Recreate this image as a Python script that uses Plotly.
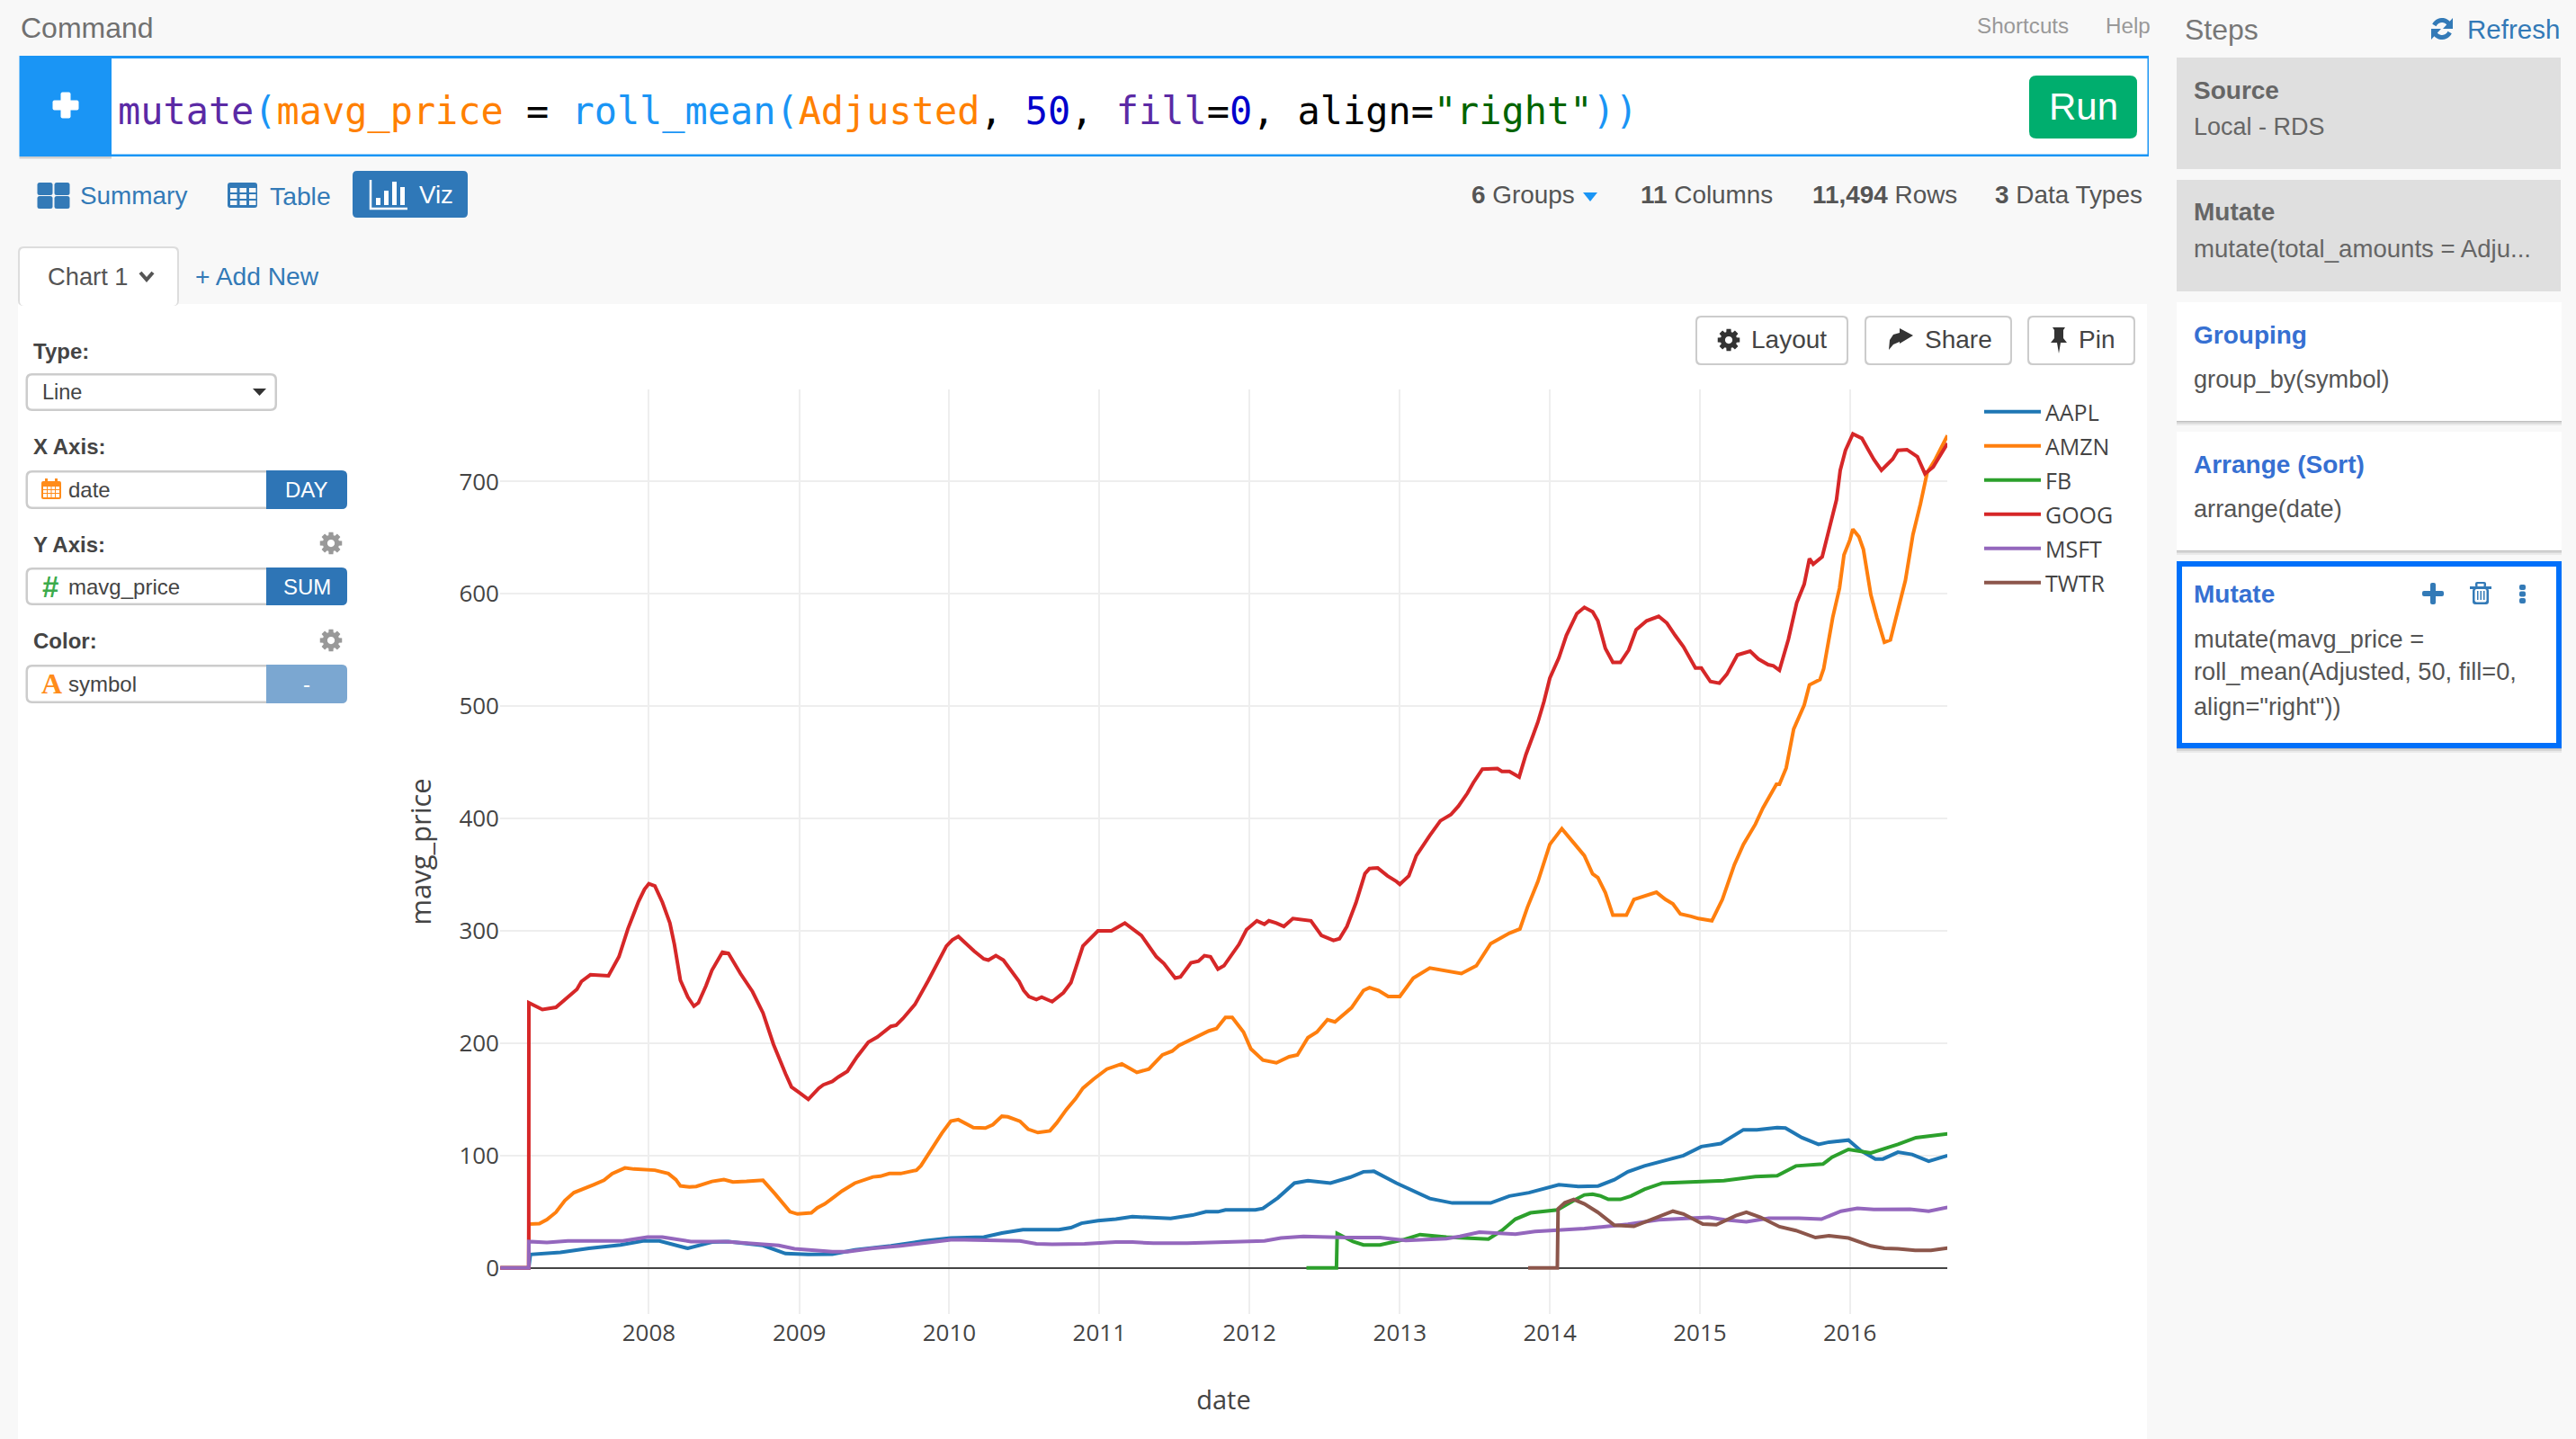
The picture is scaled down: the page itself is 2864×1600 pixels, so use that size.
import math

import pandas as pd
import plotly.graph_objects as pgo

W, H = 2864, 1600
UI_FONT = "Liberation Sans"
CHART_FONT = "Open Sans"
CODE_FONT = "DejaVu Sans Mono"
BLUE = "#337ab7"
TITLE_BLUE = "#3670d2"

symbols = ["AAPL", "AMZN", "FB", "GOOG", "MSFT", "TWTR"]
colors = ["#1f77b4", "#ff7f0e", "#2ca02c", "#d62728", "#9467bd", "#8c564b"]

# times are decimal years
aapl_t = [2007.01, 2007.199, 2007.21, 2007.41, 2007.60, 2007.81, 2007.96, 2008.07, 2008.26, 2008.42, 2008.53, 2008.67, 2008.76, 2008.91, 2009.06, 2009.22, 2009.37, 2009.61, 2009.83, 2010.01, 2010.23, 2010.35, 2010.49, 2010.73, 2010.81, 2010.88, 2010.99, 2011.11, 2011.22, 2011.475, 2011.62, 2011.71, 2011.79, 2011.84, 2012.04, 2012.09, 2012.19, 2012.30, 2012.39, 2012.54, 2012.67, 2012.76, 2012.83, 2012.98, 2013.20, 2013.35, 2013.605, 2013.73, 2013.86, 2014.06, 2014.19, 2014.32, 2014.43, 2014.52, 2014.63, 2014.89, 2015.01, 2015.14, 2015.29, 2015.38, 2015.515, 2015.57, 2015.68, 2015.79, 2015.86, 2015.99, 2016.07, 2016.17, 2016.22, 2016.32, 2016.415, 2016.525, 2016.65]
aapl_v = [0, 0, 12, 13.8, 17.4, 20.5, 24, 24, 17.4, 23, 23.5, 21.4, 20, 12.8, 12, 12.2, 16, 19.6, 24, 26.6, 27.5, 31, 34, 34, 35.8, 39.8, 42, 43.4, 45.6, 44, 47, 50, 50, 51.7, 51.7, 53, 62.4, 75.5, 77.7, 75.5, 80.7, 85.6, 86, 75.5, 61.8, 57.8, 57.8, 64, 67, 74, 72.5, 72.8, 78.6, 85.6, 90.8, 100, 108, 110.7, 123, 123, 125, 124.5, 116, 110, 112, 113.8, 104.6, 97, 97, 103, 101, 95, 100]

amzn_t = [2007.01, 2007.199, 2007.20, 2007.27, 2007.32, 2007.38, 2007.44, 2007.50, 2007.63, 2007.70, 2007.755, 2007.84, 2007.90, 2008.04, 2008.13, 2008.18, 2008.21, 2008.27, 2008.315, 2008.42, 2008.50, 2008.56, 2008.65, 2008.76, 2008.84, 2008.90, 2008.94, 2008.99, 2009.08, 2009.12, 2009.17, 2009.22, 2009.285, 2009.37, 2009.49, 2009.54, 2009.60, 2009.675, 2009.78, 2009.81, 2009.88, 2009.95, 2010.01, 2010.06, 2010.16, 2010.24, 2010.29, 2010.35, 2010.39, 2010.47, 2010.525, 2010.59, 2010.67, 2010.715, 2010.78, 2010.84, 2010.89, 2010.96, 2011.05, 2011.11, 2011.15, 2011.25, 2011.33, 2011.42, 2011.485, 2011.53, 2011.62, 2011.73, 2011.78, 2011.84, 2011.885, 2011.96, 2012.01, 2012.09, 2012.18, 2012.265, 2012.32, 2012.39, 2012.45, 2012.52, 2012.57, 2012.68, 2012.76, 2012.80, 2012.86, 2012.925, 2013.0, 2013.09, 2013.20, 2013.31, 2013.41, 2013.51, 2013.605, 2013.73, 2013.80, 2013.85, 2013.92, 2014.0, 2014.08, 2014.18, 2014.23, 2014.285, 2014.32, 2014.37, 2014.42, 2014.51, 2014.56, 2014.71, 2014.77, 2014.82, 2014.87, 2014.94, 2014.99, 2015.08, 2015.15, 2015.23, 2015.29, 2015.37, 2015.42, 2015.51, 2015.53, 2015.575, 2015.625, 2015.695, 2015.73, 2015.80, 2015.825, 2015.885, 2015.93, 2015.96, 2016.0, 2016.02, 2016.06, 2016.09, 2016.14, 2016.18, 2016.23, 2016.27, 2016.31, 2016.37, 2016.42, 2016.47, 2016.515, 2016.57, 2016.65]
amzn_v = [0, 0, 39, 39.4, 43, 49.5, 60, 67, 74, 78, 84, 89, 88, 87, 84, 78.6, 73, 72, 72.5, 77, 78.6, 76.5, 77, 78, 66, 56, 50, 48, 49, 53.5, 57, 62, 68.5, 75.5, 81, 81.6, 84, 84, 87, 91, 106, 120, 130.6, 132, 125, 124.5, 127.5, 135, 134.5, 130.6, 123.5, 120.5, 122, 129, 141, 150.5, 160, 168, 177, 180, 181.6, 174, 177, 189.6, 193, 198, 204, 211, 213, 223, 223, 210, 195, 185, 182.6, 188, 189.6, 205, 210, 221, 219, 231.5, 247, 249.5, 247, 241.6, 241.6, 258, 267, 264.5, 262, 269, 288.7, 298, 301.7, 321, 344, 377, 391, 375, 367, 350.7, 347.4, 334, 314, 314, 328, 334.4, 328, 324, 315, 313, 311, 309, 328, 359, 377, 395, 409.4, 430.6, 430.6, 445, 479.6, 501, 519, 523.7, 533.5, 579, 605, 634.7, 648, 657.6, 651, 639.6, 599, 579, 557, 559, 579, 612, 652.7, 680, 708, 720, 741]

fb_t = [2012.38, 2012.58, 2012.585, 2012.69, 2012.76, 2012.87, 2013.02, 2013.135, 2013.31, 2013.46, 2013.59, 2013.68, 2013.77, 2013.87, 2014.05, 2014.16, 2014.23, 2014.285, 2014.34, 2014.39, 2014.47, 2014.54, 2014.63, 2014.75, 2014.96, 2015.16, 2015.37, 2015.515, 2015.64, 2015.82, 2015.88, 2015.99, 2016.14, 2016.25, 2016.32, 2016.44, 2016.65]
fb_v = [0, 0, 30.6, 23.5, 20.5, 20.5, 25, 29.7, 27.5, 26.6, 25.7, 33.3, 43.4, 49, 51.7, 60, 65, 65.7, 64, 61, 61, 64, 70, 75.5, 76.5, 77.7, 81.3, 82, 90.8, 92.4, 98.5, 105.5, 102.4, 107, 110, 116, 119.3]

goog_t = [2007.01, 2007.199, 2007.20, 2007.29, 2007.38, 2007.46, 2007.52, 2007.55, 2007.61, 2007.73, 2007.80, 2007.86, 2007.93, 2007.97, 2008.0, 2008.04, 2008.09, 2008.14, 2008.17, 2008.21, 2008.26, 2008.30, 2008.33, 2008.38, 2008.42, 2008.49, 2008.53, 2008.61, 2008.69, 2008.76, 2008.83, 2008.91, 2008.95, 2009.0, 2009.06, 2009.13, 2009.16, 2009.22, 2009.26, 2009.32, 2009.385, 2009.46, 2009.52, 2009.61, 2009.645, 2009.69, 2009.77, 2009.86, 2009.89, 2009.98, 2010.02, 2010.06, 2010.165, 2010.23, 2010.26, 2010.31, 2010.36, 2010.41, 2010.465, 2010.495, 2010.53, 2010.58, 2010.615, 2010.685, 2010.76, 2010.81, 2010.84, 2010.89, 2010.99, 2011.08, 2011.17, 2011.28, 2011.38, 2011.43, 2011.505, 2011.54, 2011.61, 2011.66, 2011.70, 2011.74, 2011.79, 2011.83, 2011.93, 2011.98, 2012.05, 2012.10, 2012.13, 2012.18, 2012.23, 2012.29, 2012.41, 2012.48, 2012.56, 2012.60, 2012.65, 2012.71, 2012.77, 2012.80, 2012.855, 2012.92, 2012.98, 2013.0, 2013.06, 2013.11, 2013.20, 2013.27, 2013.34, 2013.39, 2013.45, 2013.49, 2013.55, 2013.65, 2013.68, 2013.73, 2013.795, 2013.84, 2013.89, 2013.92, 2013.96, 2014.0, 2014.06, 2014.11, 2014.18, 2014.23, 2014.285, 2014.32, 2014.37, 2014.42, 2014.47, 2014.525, 2014.575, 2014.645, 2014.725, 2014.78, 2014.835, 2014.89, 2014.97, 2015.01, 2015.07, 2015.13, 2015.18, 2015.25, 2015.335, 2015.39, 2015.455, 2015.49, 2015.53, 2015.59, 2015.645, 2015.695, 2015.73, 2015.755, 2015.815, 2015.86, 2015.91, 2015.935, 2015.97, 2016.02, 2016.08, 2016.125, 2016.16, 2016.21, 2016.285, 2016.32, 2016.38, 2016.45, 2016.50, 2016.555, 2016.65]
goog_v = [0, 0, 236, 230, 232, 241, 248, 255, 261, 260, 277, 302, 326, 337, 342, 340, 325.5, 307, 288, 256, 241, 233, 236, 251, 265, 281, 280, 262, 246, 227, 199, 173, 161, 156, 150, 160, 163, 166, 170, 175, 188, 201, 205.5, 215, 216, 222, 234.5, 256, 264, 286.5, 292, 295, 282, 275, 274, 278, 274, 265, 255, 247, 241.5, 239, 241, 237, 245, 254, 267, 286.5, 300, 300, 307, 296, 277, 271, 258, 259, 271.5, 273, 278, 277, 266, 269, 288, 301, 309, 306, 309, 307, 304, 311, 309, 296, 291.5, 293, 304, 325, 351, 355.6, 356, 349, 344, 341.5, 349, 367, 385, 398, 403.5, 411, 422.5, 432, 444, 444.5, 442, 442, 437, 457, 475, 486, 504, 525, 543, 563, 582.5, 588, 584, 576, 551.5, 539, 539, 550, 568, 576, 580, 574, 563, 553, 534, 534, 522, 520.5, 528.5, 545.6, 549, 542, 537, 536, 532, 559.6, 592, 608.6, 631.4, 626.5, 633, 657.6, 683.7, 710, 727.8, 742.4, 738.5, 727.8, 719.6, 710, 720, 727.8, 728.4, 722, 707, 713, 734]

msft_t = [2007.01, 2007.199, 2007.20, 2007.32, 2007.46, 2007.825, 2007.99, 2008.09, 2008.28, 2008.51, 2008.76, 2008.865, 2008.97, 2009.22, 2009.32, 2009.49, 2009.675, 2009.89, 2010.01, 2010.10, 2010.29, 2010.47, 2010.58, 2010.685, 2010.90, 2011.11, 2011.22, 2011.36, 2011.585, 2011.99, 2012.10, 2012.21, 2012.36, 2012.65, 2012.87, 2013.04, 2013.31, 2013.40, 2013.53, 2013.77, 2013.90, 2014.23, 2014.52, 2014.725, 2015.06, 2015.165, 2015.31, 2015.46, 2015.66, 2015.81, 2015.94, 2016.05, 2016.16, 2016.40, 2016.525, 2016.65]
msft_v = [0, 0, 23.5, 22.6, 24, 24, 27.5, 27.5, 23.5, 23.5, 21, 20, 17, 14.4, 14.4, 17.4, 19.6, 22.6, 25, 25, 24.5, 24, 21.4, 21, 21.4, 23, 23, 22, 22, 23.5, 24, 26.6, 28, 27, 27, 24.5, 26, 28, 31.8, 30, 32.4, 35, 38.8, 42.8, 45, 42.8, 41, 44.3, 44.3, 43.4, 50.5, 53, 52, 52.3, 50.5, 54]

twtr_t = [2013.855, 2014.05, 2014.055, 2014.10, 2014.16, 2014.23, 2014.32, 2014.43, 2014.56, 2014.69, 2014.82, 2014.89, 2015.02, 2015.11, 2015.24, 2015.31, 2015.405, 2015.53, 2015.64, 2015.77, 2015.86, 2015.99, 2016.14, 2016.23, 2016.32, 2016.435, 2016.54, 2016.65]
twtr_v = [0, 0, 52.6, 58, 61, 57, 49.5, 38, 37, 43.4, 50.5, 48, 39, 38.5, 46.5, 49.5, 45, 36.7, 33.3, 27, 28.7, 26.6, 19.6, 17.4, 17, 15.6, 15.6, 17.7]

series_t = [aapl_t, amzn_t, fb_t, goog_t, msft_t, twtr_t]
series_v = [aapl_v, amzn_v, fb_v, goog_v, msft_v, twtr_v]

y_ticks = [0, 100, 200, 300, 400, 500, 600, 700]


def to_dates(years):
    return [pd.Timestamp(int(y), 1, 1) + pd.Timedelta(days=(y - int(y)) * 365.25) for y in years]


def fx(x):
    return x / W


def fy(y):
    return 1 - y / H


shapes = []
notes = []


def rect(x0, y0, x1, y1, fill, r=0, line=None, lw=0, opacity=1):
    a, b, c, d = fx(x0), fy(y0), fx(x1), fy(y1)
    rx, ry = r / W, r / H
    if r:
        path = (f"M{a + rx},{b} L{c - rx},{b} Q{c},{b} {c},{b - ry} L{c},{d + ry} Q{c},{d} {c - rx},{d} "
                f"L{a + rx},{d} Q{a},{d} {a},{d + ry} L{a},{b - ry} Q{a},{b} {a + rx},{b} Z")
    else:
        path = f"M{a},{b} L{c},{b} L{c},{d} L{a},{d} Z"
    shapes.append(dict(type="path", xref="paper", yref="paper", path=path, fillcolor=fill, opacity=opacity,
                       layer="below", line=dict(color=line or fill, width=lw)))


def poly(points, fill=None, line=None, lw=0):
    path = "M" + " L".join(f"{fx(x)},{fy(y)}" for x, y in points)
    if fill:
        path += " Z"
    shapes.append(dict(type="path", xref="paper", yref="paper", path=path, fillcolor=fill or "rgba(0,0,0,0)",
                       layer="below", line=dict(color=line or fill, width=lw)))


def text(x, y, s, size, color, anchor="left", font=UI_FONT):
    notes.append(dict(xref="paper", yref="paper", x=fx(x), y=fy(y), text=s, showarrow=False, xanchor=anchor,
                      yanchor="middle", borderpad=0, font=dict(family=font, size=size, color=color)))


def card(x0, y0, x1, y1):
    for i, op in [(5, 0.12), (3, 0.2), (1, 0.3)]:
        rect(x0, y0, x1, y1 + i, "#888888", opacity=op)
    rect(x0, y0, x1, y1, "#ffffff")


def button(x0, x1, y0=350, y1=405):
    rect(x0, y0 + 1, x1, y1 + 1, "#cccccc", r=6)
    rect(x0 + 2, y0 + 3, x1 - 2, y1 - 1, "#ffffff", r=5)


def plus(cx, cy, arm, thick, color):
    rect(cx - arm, cy - thick / 2, cx + arm, cy + thick / 2, color, r=2)
    rect(cx - thick / 2, cy - arm, cx + thick / 2, cy + arm, color, r=2)


def field(y0, y1, label, tag, tag_fill):
    rect(28.5, y0, 386, y1, "#cccccc", r=7)
    rect(31, y0 + 2.5, 384, y1 - 2.5, "#ffffff", r=5)
    rect(296, y0, 386, y1, tag_fill, r=6)
    rect(296, y0, 306, y1, tag_fill)
    text(341, (y0 + y1) / 2, tag, 24, "#ffffff", "center")
    text(75, (y0 + y1) / 2, label, 24, "#444444")


def gear(cx, cy, r, color, hole):
    points = []
    for i in range(8):
        mid = i * math.pi / 4
        for off, rad in [(-0.3, r * 0.74), (-0.2, r), (0.2, r), (0.3, r * 0.74)]:
            points.append((cx + rad * math.cos(mid + off), cy + rad * math.sin(mid + off)))
    poly(points, fill=color)
    ring = [(cx + r * 0.33 * math.cos(a * math.pi / 8), cy + r * 0.33 * math.sin(a * math.pi / 8)) for a in range(16)]
    poly(ring, fill=hole)


def arc(cx, cy, r, a0, a1, color, lw):
    steps = 12
    points = []
    for i in range(steps + 1):
        a = math.radians(a0 + (a1 - a0) * i / steps)
        points.append((cx + r * math.cos(a), cy + r * math.sin(a)))
    poly(points, line=color, lw=lw)


# header and command box
text(22, 31, "Command", 32, "#707070")
text(2197, 29, "Shortcuts", 24.2, "#999999")
text(2340, 29, "Help", 24.2, "#999999")
rect(21.5, 62, 2389, 174, "#1a95f5")
rect(124, 65, 2387.5, 171.5, "#ffffff")
rect(21.5, 174, 124, 176.5, "#cfcfcf")
plus(73, 117, 14.5, 11, "#ffffff")

code_purple, code_orange, code_blue, code_num, code_green = "#5b2aa5", "#ff8000", "#1a95f5", "#0000cc", "#006400"
code_runs = [("mutate", code_purple), ("(", code_blue), ("mavg_price", code_orange), (" = ", "#000000"),
             ("roll_mean(", code_blue), ("Adjusted", code_orange), (", ", "#000000"), ("50", code_num),
             (", ", "#000000"), ("fill", code_purple), ("=", "#000000"), ("0", code_num), (", align=", "#000000"),
             ('"right"', code_green), ("))", code_blue)]
text(130, 123, "".join(f"<span style='color:{c}'>{t}</span>" for t, c in code_runs), 41.9, "#000000", font=CODE_FONT)

rect(2256, 84, 2376, 154, "#00ae6e", r=8)
text(2316, 119, "Run", 42, "#ffffff", "center")

# view switcher
for cx, cy in [(50, 210), (69, 210), (50, 225), (69, 225)]:
    rect(cx - 8.5, cy - 7, cx + 8.5, cy + 7, BLUE, r=2.5)
text(88, 218, "Summary", 27.9, BLUE)
rect(253, 203, 286, 231, BLUE, r=3)
for x0 in [256, 266.5, 277]:
    for y0 in [209, 216, 223]:
        rect(x0, y0, x0 + 7.5, y0 + 5, "#f8f8f8")
text(299, 218, "Table", 28.3, BLUE)
rect(392, 190, 520, 242, "#2f78b8", r=5)
poly([(412, 200), (412, 232), (453, 232)], line="#ffffff", lw=2.5)
for x0, y0 in [(418, 220), (427, 212), (436, 202), (445, 208)]:
    rect(x0, y0, x0 + 5, 228, "#ffffff")
text(465, 216, "Viz", 27.7, "#ffffff")

# data frame summary
text(1635, 216, "<b>6</b> Groups", 27.9, "#555555")
poly([(1760, 214), (1776, 214), (1768, 224)], fill="#1a95f5")
text(1823, 216, "<b>11</b> Columns", 27.9, "#555555")
text(2014, 216, "<b>11,494</b> Rows", 27.9, "#555555")
text(2217, 216, "<b>3</b> Data Types", 27.9, "#555555")

# chart card and tabs
rect(20, 338, 2387, 1600, "#ffffff")
rect(20, 274, 199, 340, "#dddddd", r=6)
rect(22, 276, 197, 340, "#ffffff", r=5)
text(52, 307, "Chart 1", 27.3, "#555555")
poly([(156, 303), (163, 311), (170, 303)], line="#555555", lw=4)
text(216, 307, "+ Add New", 28.2, BLUE)

# chart settings on the left
text(36, 390, "<b>Type:</b>", 24, "#444444")
rect(28.5, 415, 308, 457, "#cccccc", r=7)
rect(31, 417.5, 305.5, 454.5, "#ffffff", r=5)
text(46, 436, "Line", 23.5, "#444444")
poly([(281, 432), (296, 432), (288.5, 440)], fill="#333333")

text(36, 497, "<b>X Axis:</b>", 24, "#444444")
field(523, 566, "date", "DAY", "#2e75b6")
rect(46, 535, 68, 555, "#ff8c1a", r=2)
rect(48, 541, 66, 553, "#ffffff")
for y0 in [544, 548]:
    rect(48, y0, 66, y0 + 1, "#ff8c1a")
for x0 in [52, 56.5, 61]:
    rect(x0, 541, x0 + 1, 553, "#ff8c1a")
rect(50, 532, 53, 538, "#ff8c1a")
rect(61, 532, 64, 538, "#ff8c1a")

text(36, 606, "<b>Y Axis:</b>", 24, "#444444")
gear(368, 604, 12.5, "#999999", "#ffffff")
field(631, 673, "mavg_price", "SUM", "#2e75b6")
text(46, 652, "<b>#</b>", 33, "#3cab4c")

text(36, 713, "<b>Color:</b>", 24, "#444444")
gear(368, 712, 12.5, "#999999", "#ffffff")
field(739, 782, "symbol", "-", "#7ba7d1")
text(45, 760, "<b>A</b>", 32, "#ff8c1a", font="Liberation Serif")

# chart buttons
button(1885, 2055)
gear(1922, 378, 12.5, "#333333", "#ffffff")
text(1946, 378, "Layout", 28, "#444444")
button(2073, 2237)
poly([(2127, 373), (2112, 365), (2112, 370), (2105, 372), (2101, 378), (2100, 389), (2105, 383), (2112, 380), (2112, 382)], fill="#333333")
text(2139, 378, "Share", 28, "#444444")
button(2254, 2374)
poly([(2282, 364), (2296, 364), (2294, 367), (2294, 376), (2298, 381), (2291, 381), (2289, 393), (2287, 381), (2280, 381), (2284, 376), (2284, 367)], fill="#333333")
text(2310, 378, "Pin", 28, "#444444")

# steps column
text(2428, 33, "Steps", 32, "#777777")
arc(2715, 32, 9.5, 205, 330, BLUE, 5)
arc(2715, 32, 9.5, 25, 150, BLUE, 5)
poly([(2727, 20), (2727, 32), (2716, 32)], fill=BLUE)
poly([(2703, 44), (2703, 32), (2714, 32)], fill=BLUE)
text(2742, 32, "Refresh", 29.5, BLUE)

rect(2420, 64, 2847, 188, "#dfdfdf")
text(2438, 101, "<b>Source</b>", 28, "#666666")
text(2438, 141, "Local - RDS", 27, "#666666")
rect(2420, 200, 2847, 324, "#dfdfdf")
text(2438, 236, "<b>Mutate</b>", 28, "#666666")
text(2438, 277, "mutate(total_amounts = Adju...", 27.6, "#666666")

card(2420, 336, 2848, 468)
text(2438, 372, "<b>Grouping</b>", 28, TITLE_BLUE)
text(2438, 422, "group_by(symbol)", 27.2, "#555555")
card(2420, 480, 2848, 612)
text(2438, 516, "<b>Arrange (Sort)</b>", 28, TITLE_BLUE)
text(2438, 565, "arrange(date)", 27.2, "#555555")

card(2420, 624, 2848, 832)
rect(2420, 624, 2848, 832, "#0070fa")
rect(2426, 630, 2842, 826, "#ffffff")
text(2438, 660, "<b>Mutate</b>", 28, TITLE_BLUE)
plus(2705, 660, 12, 6, BLUE)
rect(2752, 647, 2764, 653, BLUE, r=2)
rect(2754.5, 649, 2761.5, 653, "#ffffff")
rect(2749, 654, 2767, 672, BLUE, r=3)
rect(2751.5, 655, 2764.5, 669.5, "#ffffff", r=2)
rect(2746, 652, 2770, 655, BLUE)
for x0 in [2754, 2757.5, 2761]:
    rect(x0, 657, x0 + 1.5, 667, BLUE)
for y0 in [650, 657.5, 665]:
    rect(2801, y0, 2808, y0 + 6, BLUE, r=2)
text(2438, 710, "mutate(mavg_price =", 27.2, "#555555")
text(2438, 747, "roll_mean(Adjusted, 50, fill=0,", 27.2, "#555555")
text(2438, 785, 'align="right"))', 27.2, "#555555")

fig = pgo.Figure()
for name, color, t, v in zip(symbols, colors, series_t, series_v):
    fig.add_trace(pgo.Scatter(x=to_dates(t), y=v, mode="lines", name=name, legendgroup=name,
                              line=dict(color=color, width=4)))

fig.update_layout(
    width=W, height=H, margin=dict(l=0, r=0, t=0, b=0, pad=0),
    paper_bgcolor="#f8f8f8", plot_bgcolor="rgba(0,0,0,0)",
    font=dict(family=CHART_FONT, size=26, color="#444444"),
    shapes=shapes, annotations=notes, hovermode=False,
    legend=dict(x=fx(2201), y=fy(435), xanchor="left", yanchor="top", itemwidth=63, tracegroupgap=2.5,
                bgcolor="rgba(0,0,0,0)", font=dict(size=25, color="#444444")),
)
fig.update_xaxes(domain=[fx(556), fx(2165)], range=["2007-01-04", "2016-08-25"], tick0="2008-01-01", dtick="M12",
                 tickformat="%Y", gridcolor="#eeeeee", gridwidth=2, showline=False, zeroline=False, ticks="",
                 ticklabelstandoff=3, title=dict(text="date", font=dict(size=29), standoff=48))
fig.update_yaxes(domain=[fy(1461), fy(433)], range=[-41, 782], tickvals=y_ticks, gridcolor="#eeeeee", gridwidth=2,
                 zeroline=True, zerolinecolor="#444444", zerolinewidth=2, showline=False, ticks="",
                 title=dict(text="mavg_price", font=dict(size=31), standoff=21))

fig.write_html("out.html", config={"displayModeBar": False},
               post_script="document.body.style.margin='0';document.body.style.overflow='hidden';")
